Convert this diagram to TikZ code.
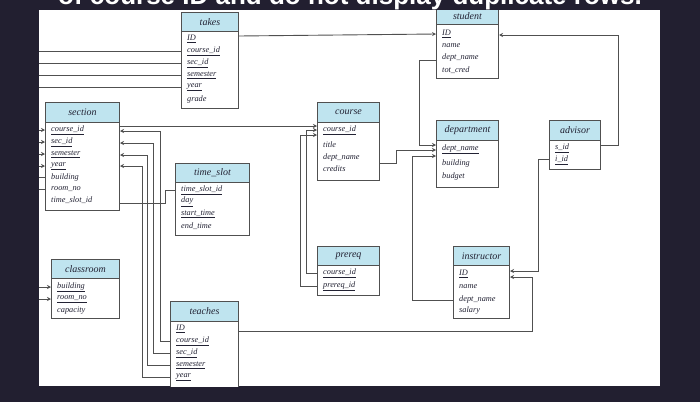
\documentclass[tikz,border=0pt]{standalone}
\usepackage{fontspec}
\setmainfont{Liberation Serif}
\newfontfamily\hdr{Liberation Sans}
\usetikzlibrary{arrows.meta}
\definecolor{bg}{HTML}{221F30}
\definecolor{titlec}{HTML}{BFE4EF}
\definecolor{boxc}{HTML}{505050}
\definecolor{txt}{HTML}{222233}
\tikzset{
  ttl/.style={draw=boxc,fill=titlec,inner sep=0,line width=1pt,anchor=north west,font=\itshape\fontsize{10}{10}\selectfont,text=txt},
  bdy/.style={draw=boxc,fill=white,inner sep=0,line width=1pt,anchor=north west},
  attr/.style={anchor=west,inner sep=0,font=\itshape\fontsize{8.3}{8.3}\selectfont,text=txt},
  ln/.style={draw=boxc,line width=.9pt},
  fk/.style={ln,-{Stealth[length=4pt,width=4pt]}}
}
\newcommand\tbl[7]{%
  \node[ttl,minimum width={#3pt-#2pt},minimum height={#5pt-#4pt}] (#1-t) at (#2,#4) {#7};
  \node[bdy,minimum width={#3pt-#2pt},minimum height={#6pt-#5pt}] (#1) at (#2,#5) {};}
\newcommand\at[4]{\node[attr] (#1) at (#2,#3) {#4};}
\begin{document}
\begin{tikzpicture}[x=1pt,y=-1pt]
\fill[bg] (0,0) rectangle (700,402);
\useasboundingbox (0,0) rectangle (700,402);
\node[anchor=base,text=white,font=\hdr\bfseries\fontsize{26}{26}\selectfont] (head) at (350,4) {of course ID and do not display duplicate rows.};
\fill[white] (39,10) rectangle (660,386);
\begin{scope}
\clip (39,10) rectangle (660,386);
\tbl{takes}{181}{238}{12}{31}{108}{takes}
\tbl{student}{436}{498}{8}{24}{78}{student}
\tbl{section}{45}{119}{102}{122}{210}{section}
\tbl{course}{317}{379}{102}{122}{180}{course}
\tbl{department}{436}{498}{120}{140}{187}{department}
\tbl{advisor}{549}{600}{120}{140}{169}{advisor}
\tbl{timeslot}{175}{249}{163}{182}{235}{time\_slot}
\tbl{classroom}{51}{119}{259}{278}{318}{classroom}
\tbl{prereq}{317}{379}{246}{265}{295}{prereq}
\tbl{teaches}{170}{238}{301}{321}{390}{teaches}
\tbl{instructor}{453}{509}{246}{265}{318}{instructor}
% attributes
\at{tk-id}{187}{39}{\underline{ID}}
\at{tk-cid}{187}{51}{\underline{course\_id}}
\at{tk-sid}{187}{63}{\underline{sec\_id}}
\at{tk-sem}{187}{75}{\underline{semester}}
\at{tk-yr}{187}{87}{\underline{year}}
\at{tk-gr}{187}{99}{grade}
\at{st-id}{442}{34}{\underline{ID}}
\at{st-nm}{442}{46}{name}
\at{st-dn}{442}{58}{dept\_name}
\at{st-tc}{442}{70}{tot\_cred}
\at{se-cid}{51}{130}{\underline{course\_id}}
\at{se-sid}{51}{142}{\underline{sec\_id}}
\at{se-sem}{51}{154}{\underline{semester}}
\at{se-yr}{51}{166}{\underline{year}}
\at{se-bd}{51}{177}{building}
\at{se-rn}{51}{189}{room\_no}
\at{se-ts}{51}{200}{time\_slot\_id}
\at{co-cid}{323}{130}{\underline{course\_id}}
\at{co-ti}{323}{145}{title}
\at{co-dn}{323}{157}{dept\_name}
\at{co-cr}{323}{169}{credits}
\at{de-dn}{442}{149}{\underline{dept\_name}}
\at{de-bd}{442}{163}{building}
\at{de-bu}{442}{176}{budget}
\at{ad-s}{555}{148}{\underline{s\_id}}
\at{ad-i}{555}{160}{\underline{i\_id}}
\at{ts-id}{181}{190}{\underline{time\_slot\_id}}
\at{ts-dy}{181}{202}{\underline{day}}
\at{ts-st}{181}{214}{\underline{start\_time}}
\at{ts-et}{181}{226}{end\_time}
\at{cl-bd}{57}{287}{\underline{building}}
\at{cl-rn}{57}{299}{\underline{room\_no}}
\at{cl-cp}{57}{311}{capacity}
\at{pr-cid}{323}{273}{\underline{course\_id}}
\at{pr-pid}{323}{286}{\underline{prereq\_id}}
\at{te-id}{176}{329}{\underline{ID}}
\at{te-cid}{176}{341}{\underline{course\_id}}
\at{te-sid}{176}{353}{\underline{sec\_id}}
\at{te-sem}{176}{365}{\underline{semester}}
\at{te-yr}{176}{377}{\underline{year}}
\at{in-id}{459}{274}{\underline{ID}}
\at{in-nm}{459}{287}{name}
\at{in-dn}{459}{299}{dept\_name}
\at{in-sa}{459}{311}{salary}
\coordinate (lft) at (38,0);
% connectors
\draw[fk] (takes.east|-0,36) -- (student.west|-st-id);
\foreach \a/\b in {tk-cid/se-cid,tk-sid/se-sid,tk-sem/se-sem,tk-yr/se-yr}{
  \draw[ln] (takes.west|-\a) -- (lft|-\a);
  \draw[fk] (lft|-\b) -- (section.west|-\b);}
\draw[ln] (section.west|-se-bd) -- (lft|-se-bd);
\draw[ln] (section.west|-se-rn) -- (lft|-se-rn);
\draw[fk] (lft|-cl-bd) -- (classroom.west|-cl-bd);
\draw[fk] (lft|-cl-rn) -- (classroom.west|-cl-rn);
\draw[fk] (section.east|-0,126) -- (course.west|-0,126);
\draw[fk] (teaches.west|-te-cid) -| (160,131) -- (section.east|-0,131);
\draw[fk] (teaches.west|-te-sid) -| (153,143) -- (section.east|-0,143);
\draw[fk] (teaches.west|-te-sem) -| (147,155) -- (section.east|-0,155);
\draw[fk] (teaches.west|-te-yr) -| (142,166) -- (section.east|-0,166);
\draw[ln] (section.east|-0,203) -- (165,203) |- (timeslot.west|-ts-id);
\draw[fk] (prereq.west|-pr-cid) -| (306,130) -- (course.west|-0,130);
\draw[fk] (prereq.west|-pr-pid) -| (300,135) -- (course.west|-0,135);
\draw[fk] (course.east|-0,163) -- (396,163) |- (department.west|-0,150);
\draw[fk] (student.west|-0,60) -| (419,145) -- (department.west|-0,145);
\draw[fk] (instructor.west|-0,300) -| (412,156) -- (department.west|-0,156);
\draw[fk] (advisor.east|-0,145) -| (618,35) -- (student.east|-0,35);
\draw[fk] (advisor.west|-0,159) -| (538,271) -- (instructor.east|-0,271);
\draw[fk] (teaches.east|-0,331) -| (532,277) -- (instructor.east|-0,277);
\end{scope}
\end{tikzpicture}
\end{document}
